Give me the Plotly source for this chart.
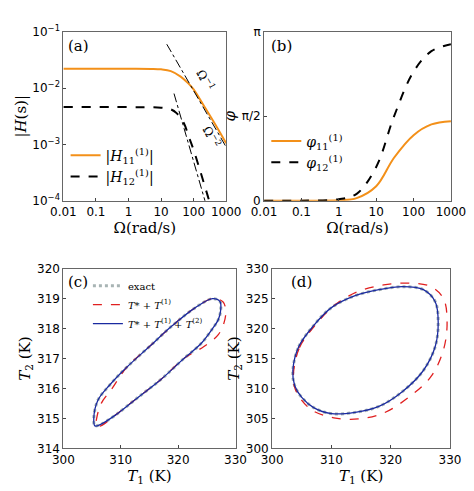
import plotly.graph_objects as go

# panel (a): magnitude
w_a11 = [0.01, 0.1, 1, 5, 10, 20, 40, 70, 100, 200, 400, 700, 1000]
h11 = [0.022, 0.022, 0.022, 0.0219, 0.0215, 0.02, 0.016, 0.012, 0.0095, 0.005, 0.0026, 0.0015, 0.00105]
w_a12 = [0.01, 1, 10, 20, 30, 50, 70, 100, 200, 300, 350]
h12 = [0.0046, 0.0046, 0.0045, 0.0042, 0.0036, 0.0024, 0.0014, 0.0008, 0.00022, 0.0001, 0.00007]
w_s1 = [15, 1000]; s1 = [0.06, 0.0009]
w_s2 = [25, 250]; s2 = [0.008, 0.00008]

# panel (b): phase
w_b = [0.01, 0.1, 1, 3, 10, 30, 100, 300, 1000]
p11 = [0.0, 0.001, 0.01, 0.05, 0.27, 0.8, 1.22, 1.42, 1.48]
p12 = [0.0, 0.003, 0.03, 0.13, 0.63, 1.57, 2.4, 2.78, 2.91]

# panel (c): trajectories
c_blue_t1 = [305.3, 306, 308, 311, 315, 319, 323, 326, 327.3, 327.4, 327, 326, 324, 321, 317, 313, 309, 306.5, 305.5, 305.3]
c_blue_t2 = [315.0, 315.6, 316.1, 316.7, 317.4, 318.1, 318.7, 319.0, 318.9, 318.6, 318.3, 318.0, 317.5, 317.0, 316.3, 315.7, 315.1, 314.8, 314.75, 315.0]
c_red_t1 = [305.8, 306.6, 308.5, 311, 315, 319, 323, 326, 327.8, 328.3, 328.0, 327, 324.5, 321, 317, 313, 309, 306.5, 305.7, 305.8]
c_red_t2 = [315.0, 315.5, 316.0, 316.7, 317.4, 318.1, 318.7, 319.0, 318.9, 318.6, 318.2, 317.8, 317.4, 317.0, 316.3, 315.7, 315.1, 314.75, 314.75, 315.0]

# panel (d)
d_blue_t1 = [303.5, 304.5, 307, 310, 314, 318, 322, 325.5, 327.5, 328, 327.5, 325.5, 322, 318, 314, 310, 307, 305, 303.8, 303.5]
d_blue_t2 = [313, 317, 320.5, 323.5, 325.5, 326.5, 327, 326.5, 324.5, 321, 317, 313, 309.5, 307, 306, 305.8, 306.8, 308.5, 310.5, 313]
d_red_t1 = [303.6, 304.6, 307.2, 310.4, 314.5, 318.8, 323, 326.8, 328.9, 329.5, 328.9, 326.8, 323, 318.8, 314.5, 310.4, 307, 305, 303.8, 303.6]
d_red_t2 = [312.5, 316.8, 320.5, 323.8, 326.2, 327.3, 327.6, 327.0, 325, 321, 316.5, 312, 308.5, 305.9, 304.9, 305.1, 306.2, 308, 310.2, 312.5]

ORANGE = "#f39019"
fig = go.Figure()
fig.add_trace(go.Scatter(x=w_a11, y=h11, mode="lines", line=dict(color=ORANGE, width=2, shape="spline"),
                         name="|<i>H</i><sub>11</sub><sup>(1)</sup>|", legend="legend"))
fig.add_trace(go.Scatter(x=w_a12, y=h12, mode="lines", line=dict(color="black", width=2, dash="dash", shape="spline"),
                         name="|<i>H</i><sub>12</sub><sup>(1)</sup>|", legend="legend"))
for xs, ys in [(w_s1, s1), (w_s2, s2)]:
    fig.add_trace(go.Scatter(x=xs, y=ys, mode="lines", line=dict(color="black", width=1, dash="dashdot"),
                             showlegend=False))

fig.add_trace(go.Scatter(x=w_b, y=p11, xaxis="x2", yaxis="y2", mode="lines",
                         line=dict(color=ORANGE, width=2, shape="spline"),
                         name="<i>φ</i><sub>11</sub><sup>(1)</sup>", legend="legend2"))
fig.add_trace(go.Scatter(x=w_b, y=p12, xaxis="x2", yaxis="y2", mode="lines",
                         line=dict(color="black", width=2, dash="dash", shape="spline"),
                         name="<i>φ</i><sub>12</sub><sup>(1)</sup>", legend="legend2"))

for ax, (bt1, bt2, rt1, rt2), leg in [("3", (c_blue_t1, c_blue_t2, c_red_t1, c_red_t2), True),
                                      ("4", (d_blue_t1, d_blue_t2, d_red_t1, d_red_t2), False)]:
    fig.add_trace(go.Scatter(x=bt1, y=bt2, xaxis="x" + ax, yaxis="y" + ax, mode="lines",
                             line=dict(color="#a8b4b4", width=3, dash="dot", shape="spline"),
                             name="exact", showlegend=leg, legend="legend3"))
    fig.add_trace(go.Scatter(x=rt1, y=rt2, xaxis="x" + ax, yaxis="y" + ax, mode="lines",
                             line=dict(color="#e02020", width=1.3, dash="dash", shape="spline"),
                             name="<i>T</i>* + <i>T</i><sup>(1)</sup>", showlegend=leg, legend="legend3"))
    fig.add_trace(go.Scatter(x=bt1, y=bt2, xaxis="x" + ax, yaxis="y" + ax, mode="lines",
                             line=dict(color="#1a2aa0", width=1.3, shape="spline"),
                             name="<i>T</i>* + <i>T</i><sup>(1)</sup> + <i>T</i><sup>(2)</sup>",
                             showlegend=leg, legend="legend3"))

box = dict(showline=True, mirror=True, linecolor="#666", linewidth=1, ticks="inside",
           ticklen=3, showgrid=False, zeroline=False, tickfont=dict(size=12, family="DejaVu Sans"))
ttl = dict(family="DejaVu Serif", size=15)
wticks = dict(type="log", range=[-2, 3], tickvals=[0.01, 0.1, 1, 10, 100, 1000],
              ticktext=["0.01", "0.1", "1", "10", "100", "1000"],
              title=dict(text="Ω(rad/s)", font=ttl, standoff=4))

fig.update_layout(
    width=474, height=491, margin=dict(l=0, r=0, t=0, b=0),
    plot_bgcolor="white", paper_bgcolor="white", font=dict(family="DejaVu Serif", color="black"),
    xaxis=dict(domain=[0.095, 0.46], anchor="y", **wticks, **box),
    yaxis=dict(domain=[0.613, 0.969], anchor="x", type="log", range=[-4, -1],
               tickvals=[1e-4, 1e-3, 1e-2, 1e-1],
               ticktext=["10<sup>−4</sup>", "10<sup>−3</sup>", "10<sup>−2</sup>", "10<sup>−1</sup>"],
               title=dict(text="|<i>H</i>(s)|", font=ttl, standoff=2), **box),
    xaxis2=dict(domain=[0.545, 0.964], anchor="y2", **wticks, **box),
    yaxis2=dict(domain=[0.613, 0.969], anchor="x2", range=[0, 3.1416],
                tickvals=[0, 1.5708, 3.1416], ticktext=["0", "π/2", "π"],
                title=dict(text="<i>φ</i>", font=ttl, standoff=2), **box),
    xaxis3=dict(domain=[0.095, 0.481], anchor="y3", range=[300, 330], dtick=10,
                title=dict(text="<i>T</i><sub>1</sub> (K)", font=ttl, standoff=4), **box),
    yaxis3=dict(domain=[0.092, 0.47], anchor="x3", range=[314, 320], dtick=1,
                title=dict(text="<i>T</i><sub>2</sub> (K)", font=ttl, standoff=2), **box),
    xaxis4=dict(domain=[0.563, 0.962], anchor="y4", range=[300, 330], dtick=10,
                title=dict(text="<i>T</i><sub>1</sub> (K)", font=ttl, standoff=4), **box),
    yaxis4=dict(domain=[0.092, 0.47], anchor="x4", range=[300, 330], dtick=5,
                title=dict(text="<i>T</i><sub>2</sub> (K)", font=ttl, standoff=2), **box),
    legend=dict(x=0.1, y=0.63, xanchor="left", yanchor="bottom", bgcolor="rgba(0,0,0,0)",
                font=dict(size=14), tracegroupgap=0),
    legend2=dict(x=0.55, y=0.66, xanchor="left", yanchor="bottom", bgcolor="rgba(0,0,0,0)",
                 font=dict(size=14)),
    legend3=dict(x=0.15, y=0.465, xanchor="left", yanchor="top", bgcolor="rgba(0,0,0,0)",
                 font=dict(size=10)),
    annotations=[
        dict(text="(a)", x=0.1, y=0.963, xref="paper", yref="paper", xanchor="left", yanchor="top",
             showarrow=False, font=dict(size=15)),
        dict(text="(b)", x=0.555, y=0.963, xref="paper", yref="paper", xanchor="left", yanchor="top",
             showarrow=False, font=dict(size=15)),
        dict(text="(c)", x=0.1, y=0.465, xref="paper", yref="paper", xanchor="left", yanchor="top",
             showarrow=False, font=dict(size=15)),
        dict(text="(d)", x=0.6, y=0.465, xref="paper", yref="paper", xanchor="left", yanchor="top",
             showarrow=False, font=dict(size=15)),
        dict(text="Ω<sup>−1</sup>", x=2.38, y=-1.85, xref="x", yref="y", showarrow=False,
             textangle=62, font=dict(size=12)),
        dict(text="Ω<sup>−2</sup>", x=2.55, y=-2.85, xref="x", yref="y", showarrow=False,
             textangle=62, font=dict(size=12)),
    ],
)
fig.write_html("out.html")
